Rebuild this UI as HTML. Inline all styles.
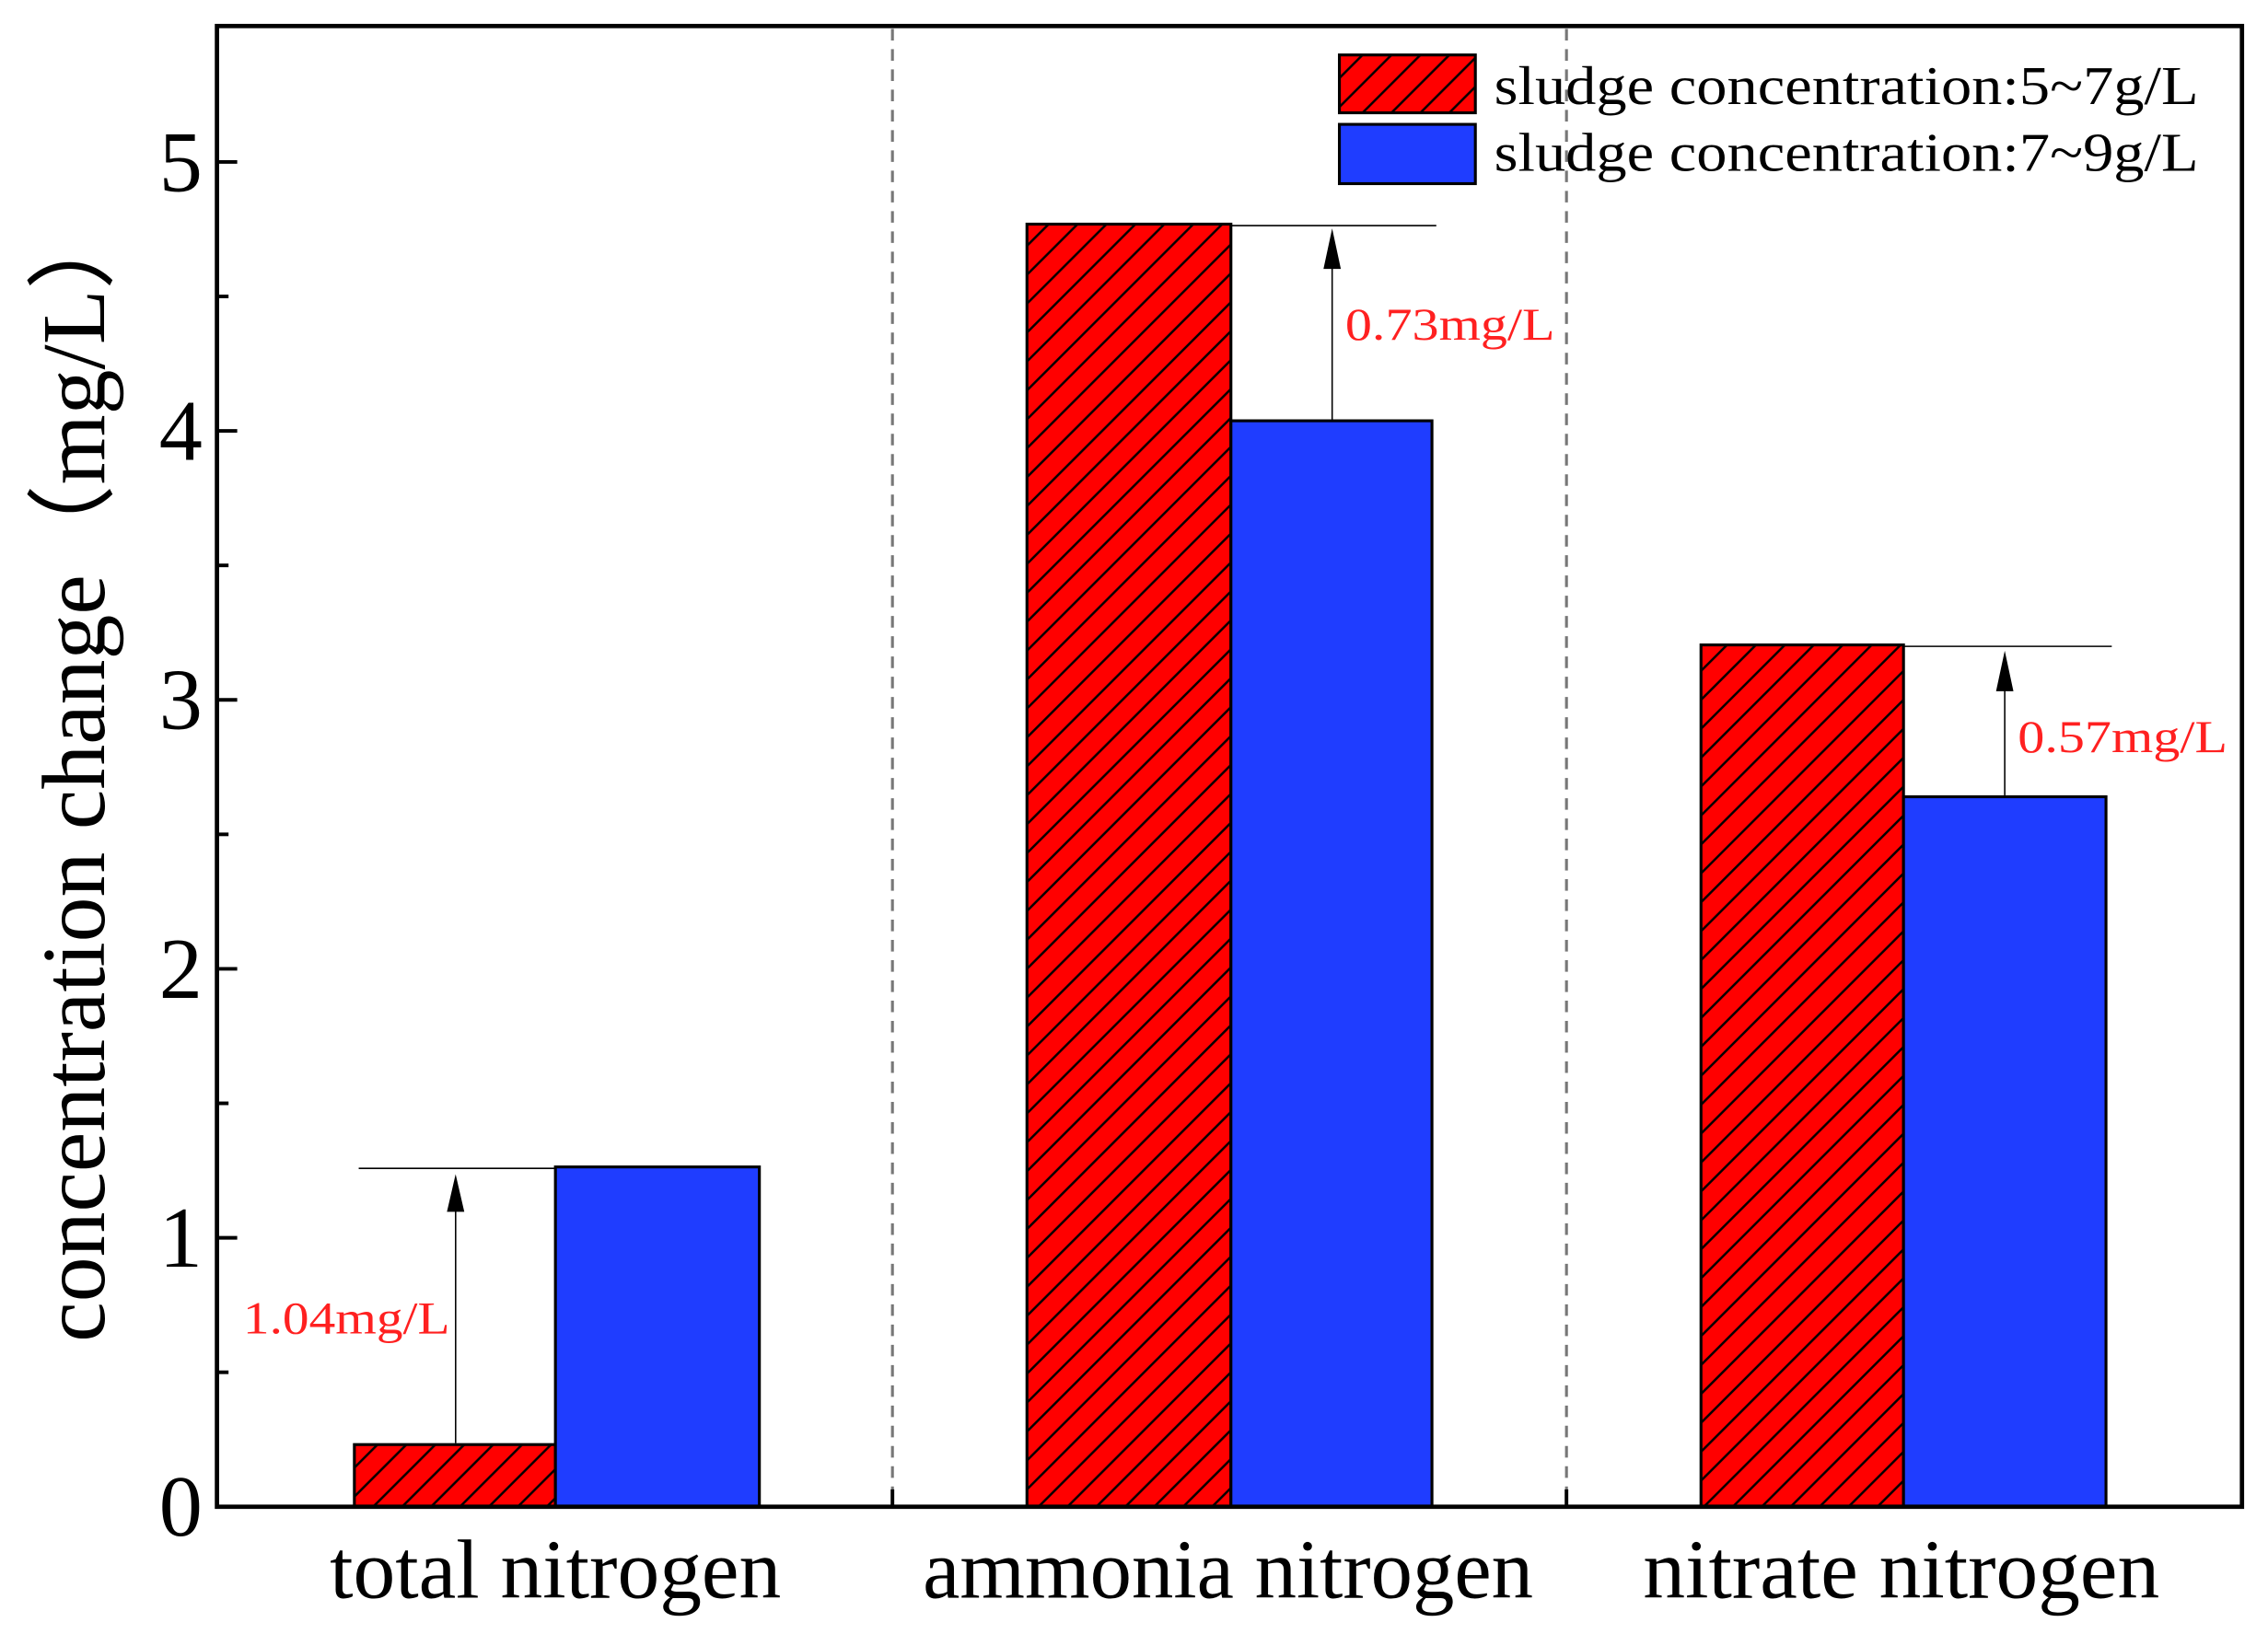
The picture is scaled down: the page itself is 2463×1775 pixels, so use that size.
<!DOCTYPE html>
<html><head><meta charset="utf-8"><style>html,body{margin:0;padding:0;background:#fff}svg{display:block}</style></head>
<body>
<svg width="2463" height="1775" viewBox="0 0 1568 1130" preserveAspectRatio="none" xmlns="http://www.w3.org/2000/svg" font-family="Liberation Serif, serif">
<defs>
<pattern id="h" patternUnits="userSpaceOnUse" width="20" height="20">
<rect width="20" height="20" fill="#ff0000"/>
<path d="M-2,22 L22,-2 M-2,2 L2,-2 M18,22 L22,18" stroke="#000" stroke-width="1.6"/>
</pattern>
</defs>
<rect x="0" y="0" width="1568" height="1130" fill="#fff"/>
<line x1="617" y1="20" x2="617" y2="1042" stroke="#777" stroke-width="2" stroke-dasharray="8,6"/>
<line x1="1083" y1="20" x2="1083" y2="1042" stroke="#777" stroke-width="2" stroke-dasharray="8,6"/>
<rect x="245" y="999" width="139" height="43" fill="url(#h)" stroke="#000" stroke-width="2"/>
<rect x="384" y="807" width="141" height="235" fill="#1f3dff" stroke="#000" stroke-width="2"/>
<rect x="710" y="155" width="141" height="887" fill="url(#h)" stroke="#000" stroke-width="2"/>
<rect x="851" y="291" width="139" height="751" fill="#1f3dff" stroke="#000" stroke-width="2"/>
<rect x="1176" y="446" width="140" height="596" fill="url(#h)" stroke="#000" stroke-width="2"/>
<rect x="1316" y="551" width="140" height="491" fill="#1f3dff" stroke="#000" stroke-width="2"/>
<g stroke="#000" stroke-width="1">
<line x1="248" y1="808" x2="384" y2="808"/>
<line x1="315" y1="998" x2="315" y2="830"/>
<line x1="851" y1="156" x2="993" y2="156"/>
<line x1="921" y1="290" x2="921" y2="180"/>
<line x1="1316" y1="447" x2="1460" y2="447"/>
<line x1="1386" y1="550" x2="1386" y2="472"/>
</g>
<polygon points="315,812 309,838 321,838" fill="#000"/>
<polygon points="921,158 915,186 927,186" fill="#000"/>
<polygon points="1386,450 1380,478 1392,478" fill="#000"/>
<g fill="#ff2020" font-size="32">
<text x="168" y="922" textLength="143" lengthAdjust="spacingAndGlyphs">1.04mg/L</text>
<text x="930" y="235" textLength="145" lengthAdjust="spacingAndGlyphs">0.73mg/L</text>
<text x="1395" y="520" textLength="145" lengthAdjust="spacingAndGlyphs">0.57mg/L</text>
</g>
<rect x="150" y="18" width="1400" height="1024" fill="none" stroke="#000" stroke-width="3"/>
<g stroke="#000" stroke-width="2.5">
<line x1="150" y1="112" x2="164" y2="112"/><line x1="150" y1="298" x2="164" y2="298"/>
<line x1="150" y1="484" x2="164" y2="484"/><line x1="150" y1="670" x2="164" y2="670"/>
<line x1="150" y1="856" x2="164" y2="856"/>
<line x1="150" y1="205" x2="158" y2="205"/><line x1="150" y1="391" x2="158" y2="391"/>
<line x1="150" y1="577" x2="158" y2="577"/><line x1="150" y1="763" x2="158" y2="763"/>
<line x1="150" y1="949" x2="158" y2="949"/>
<line x1="617" y1="1042" x2="617" y2="1030"/><line x1="1083" y1="1042" x2="1083" y2="1030"/>
</g>
<g font-size="60" text-anchor="end">
<text x="140" y="1062">0</text><text x="140" y="876">1</text><text x="140" y="690">2</text>
<text x="140" y="504">3</text><text x="140" y="318">4</text><text x="140" y="132">5</text>
</g>
<g font-size="58">
<text x="228" y="1105" textLength="312" lengthAdjust="spacingAndGlyphs">total nitrogen</text>
<text x="638" y="1105" textLength="422" lengthAdjust="spacingAndGlyphs">ammonia nitrogen</text>
<text x="1136" y="1105" textLength="357" lengthAdjust="spacingAndGlyphs">nitrate nitrogen</text>
</g>
<text transform="translate(72,928) rotate(-90)" font-size="62" textLength="790" lengthAdjust="spacingAndGlyphs">concentration change（mg/L）</text>
<rect x="926" y="38" width="94" height="40" fill="url(#h)" stroke="#000" stroke-width="2"/>
<rect x="926" y="86" width="94" height="41" fill="#1f3dff" stroke="#000" stroke-width="2"/>
<g font-size="38">
<text x="1033" y="72" textLength="487" lengthAdjust="spacingAndGlyphs">sludge concentration:5~7g/L</text>
<text x="1033" y="118" textLength="487" lengthAdjust="spacingAndGlyphs">sludge concentration:7~9g/L</text>
</g>
</svg>
</body></html>
